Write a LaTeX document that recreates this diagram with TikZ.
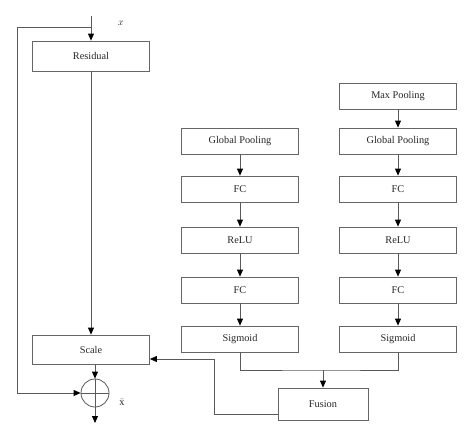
\documentclass[tikz,border=0pt]{standalone}
\usepackage{fontspec}
\setmainfont{Liberation Serif}
\usetikzlibrary{arrows.meta}

\begin{document}
\begin{tikzpicture}[x=1pt,y=-1pt,
	block/.style={draw=black!60, line width=0.8pt, minimum width=117pt, minimum height=26pt, inner sep=0pt, text=black!85, font=\fontsize{10.3}{12}\selectfont},
	wire/.style={draw=black!65, line width=0.8pt},
	arr/.style={wire, -{Triangle[length=7pt,width=6pt,color=black]}}]
	\useasboundingbox (0,0) rectangle (474,442);   % page size
	
	% residual branch
	\coordinate (in) at (91,16);
	\node[block, minimum height=30pt] (residual) at (91,56) {Residual};
	\node[block, minimum height=29pt] (scale) at (91,349.5) {Scale};
	\node[draw=black!65, line width=0.8pt, circle, minimum size=28pt, inner sep=0pt] (sum) at (95,393) {};
	\draw[wire] (sum.north) -- (sum.south) (sum.west) -- (sum.east);   % plus sign
	\node[text=black!85] at (121,23) {\fontsize{10.3}{12}\selectfont$x$};
	\node[text=black!85] at (122,402) {\fontsize{10.3}{12}\selectfont$\ddot{\mathrm{x}}$};
	\coordinate (out) at (95,423);
	
	\draw[arr] (in) -- (residual);
	\draw[arr] (residual) -- (scale);
	\draw[arr] (scale.south -| sum) -- (sum);
	\draw[arr] (sum) -- (out);
	\draw[arr] (91,27) -| (17,393) -- (sum.west);   % skip connection
	
	% left attention branch
	\node[block] (gpa) at (240,141) {Global Pooling};
	\node[block] (fca) at (240,189) {FC};
	\node[block] (relua) at (240,240) {ReLU};
	\node[block] (fcb) at (240,290) {FC};
	\node[block] (siga) at (240,339) {Sigmoid};
	
	% right attention branch
	\node[block] (maxp) at (398,96) {Max Pooling};
	\node[block] (gpb) at (398,141) {Global Pooling};
	\node[block] (fcc) at (398,189) {FC};
	\node[block] (relub) at (398,240) {ReLU};
	\node[block] (fcd) at (398,290) {FC};
	\node[block] (sigb) at (398,339) {Sigmoid};
	
	\foreach \a/\b in {gpa/fca, fca/relua, relua/fcb, fcb/siga, maxp/gpb, gpb/fcc, fcc/relub, relub/fcd, fcd/sigb}
		\draw[arr] (\a) -- (\b);
	
	% fusion
	\node[block, minimum width=90pt, minimum height=32pt] (fusion) at (323,404) {Fusion};
	\coordinate (join) at (323,370);
	\draw[wire] (siga.south) |- (join) -| (sigb.south);
	\draw[arr] (join) -- (fusion);
	\draw[arr] (fusion.west |- 0,414) -| (214,359) -- (scale.east |- 0,359);
	
\end{tikzpicture}
\end{document}
